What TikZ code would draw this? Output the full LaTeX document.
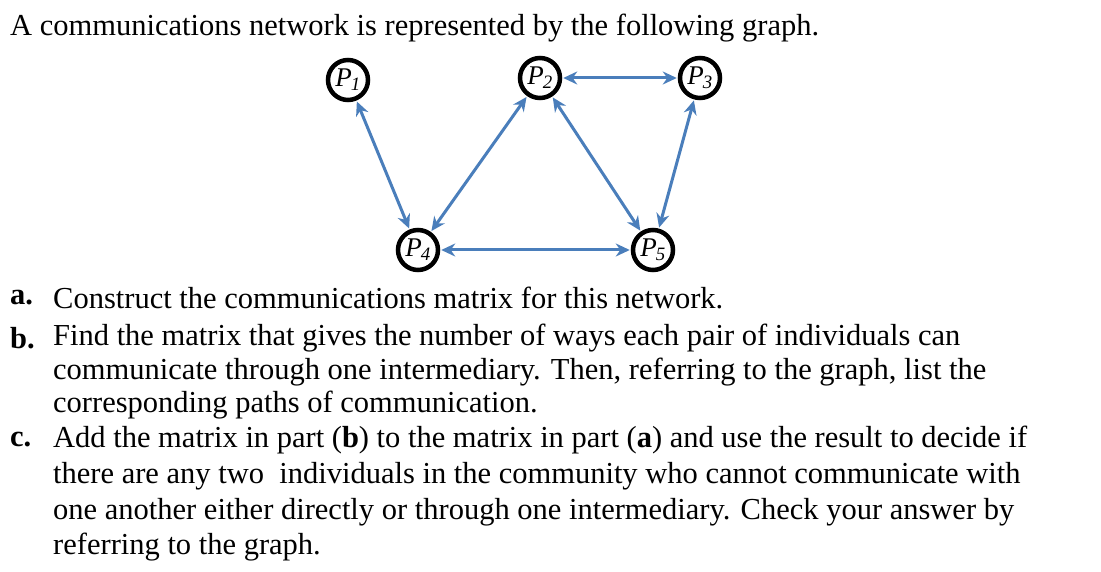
\documentclass[tikz,border=0pt]{standalone}
\usepackage{fontspec}
\setmainfont{Liberation Serif}
\usetikzlibrary{arrows.meta}
\newcommand{\pl}[1]{\textit{P}\textsubscript{\kern-1pt\textit{#1}}}
\begin{document}
\begin{tikzpicture}[x=1pt,y=-1pt,
  pnode/.style={circle,draw=black,line width=4.5pt,minimum size=40pt,inner sep=0pt,font=\fontsize{27}{28}\selectfont},
  link/.style={draw={rgb,255:red,74;green,126;blue,187},line width=3pt,{Stealth[length=14pt,width=13pt]}-{Stealth[length=14pt,width=13pt]},shorten <=1pt,shorten >=1pt},
  txt/.style={anchor=west,inner sep=0pt,font=\fontsize{30.5}{34}\selectfont}]
\useasboundingbox (0,0) rectangle (1101,572);
\node[txt] (title) at (10,28) {A communications network is represented by the following graph.};
\node[pnode] (p1) at (348,80) {\pl{1}};
\node[pnode] (p2) at (540,78) {\pl{2}};
\node[pnode] (p3) at (700,78) {\pl{3}};
\node[pnode] (p4) at (418,250) {\pl{4}};
\node[pnode] (p5) at (653,250) {\pl{5}};
\draw[link] (p1) -- (p4);
\draw[link] (p2) -- (p4);
\draw[link] (p2) -- (p3);
\draw[link] (p2) -- (p5);
\draw[link] (p3) -- (p5);
\draw[link] (p4) -- (p5);
\node[txt] (la) at (10,298) {\textbf{a.}};
\node[txt] (ta) at (53,298) {Construct the communications matrix for this network.};
\node[txt] (lb) at (10,338) {\textbf{b.}};
\node[txt] (tb1) at (53,338) {Find the matrix that gives the number of ways each pair of individuals can};
\node[txt] (tb2) at (53,372) {communicate through one intermediary. Then, referring to the graph, list the};
\node[txt] (tb3) at (53,405) {corresponding paths of communication.};
\node[txt] (lc) at (10,440) {\textbf{c.}};
\node[txt] (tc1) at (53,440) {Add the matrix in part (\textbf{b}) to the matrix in part (\textbf{a}) and use the result to decide if};
\node[txt] (tc2) at (53,476) {there are any two\ \ individuals in the community who cannot communicate with};
\node[txt] (tc3) at (53,512) {one another either directly or through one intermediary. Check your answer by};
\node[txt] (tc4) at (53,547) {referring to the graph.};
\end{tikzpicture}
\end{document}
